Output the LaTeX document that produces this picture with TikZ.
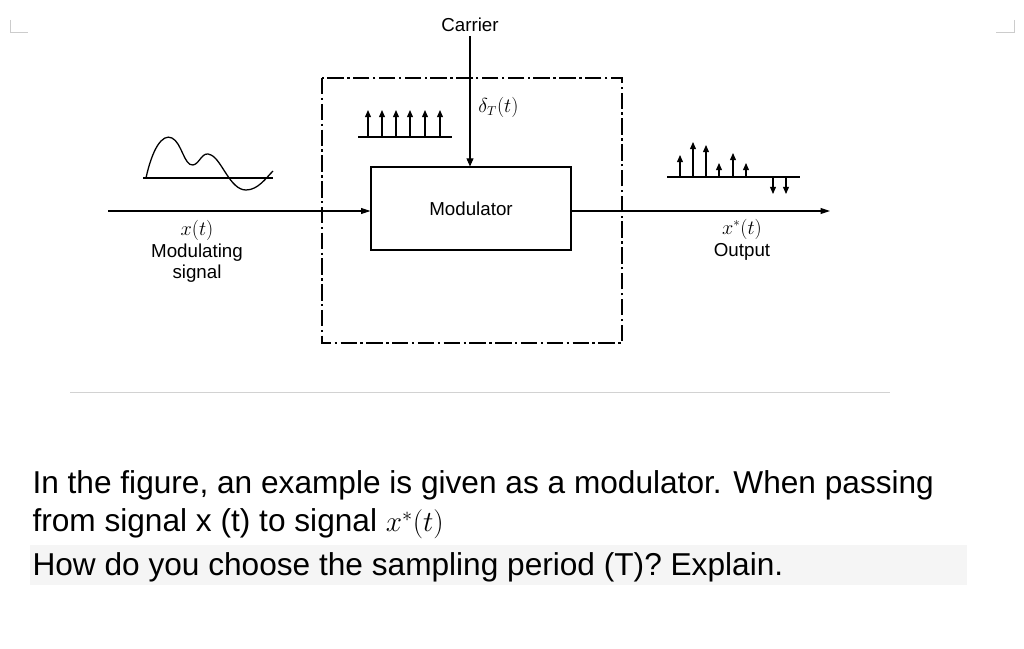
\documentclass[tikz,border=0pt]{standalone}
\usepackage{fontspec}
\setmainfont{Liberation Sans}
\usetikzlibrary{arrows.meta}
\tikzset{
  lbl/.style={font=\fontsize{16}{18}\selectfont},
  qtext/.style={font=\fontsize{27}{31}\selectfont, anchor=west, inner sep=0pt},
  imp/.style={-{Triangle[length=6pt,width=5pt]}, line width=0.9pt}
}
\begin{document}
\begin{tikzpicture}[x=0.03cm,y=-0.03cm,line width=0.9pt]
  \useasboundingbox (0,0) rectangle (1024,649);
  % corner marks
  \draw[gray!40, line width=0.6pt] (10,20) -- (10,32) -- (28,32);
  \draw[gray!40, line width=0.6pt] (1014,20) -- (1014,32) -- (996,32);
  % sampler boundary
  \draw[dash pattern=on 14pt off 3pt on 2pt off 3pt] (322,78) rectangle (622,343);
  % modulator block
  \node[draw, minimum width=6cm, minimum height=2.49cm, lbl] (mod) at (471,208.5) {Modulator};
  \node[lbl] (carrier) at (470,25) {Carrier};
  \coordinate (xin) at (108,211);
  \coordinate (xout) at (830,211);
  \draw[-{Triangle[length=8pt,width=5pt]}] (xin) -- (xin -| mod.west);
  \draw[-{Triangle[length=8pt,width=5pt]}] (mod.east |- xout) -- (xout);
  \draw[-{Triangle[length=7pt,width=6pt]}] (carrier.south) -- (carrier.south |- mod.north);
  \node[lbl, anchor=west] (delta) at (474,107) {$\delta_T(t)$};
  % carrier impulse train
  \draw (358,137) -- (452,137);
  \foreach \x in {368,382,396,410,425,440}
    \draw[imp] (\x,137) -- (\x,110);
  % modulating signal
  \draw (143,178) -- (273,178);
  \draw[line width=1.1pt] (146,178) .. controls (152,150) and (162,133) .. (172,138)
    .. controls (182,143) and (184,166) .. (193,165)
    .. controls (200,164) and (202,150) .. (211,155)
    .. controls (222,160) and (230,190) .. (246,190)
    .. controls (258,190) and (266,178) .. (273,171);
  \node[lbl] (xt) at (197,230) {$x(t)$};
  \node[lbl, below=-4pt] (modsig) at (xt.south) {Modulating};
  \node[lbl, below=-5pt] (sig) at (modsig.south) {signal};
  % sampled output
  \draw (667,177) -- (800,177);
  \foreach \x/\h in {680/155,693/142,706/145,719/163,733/153,746/163}
    \draw[imp] (\x,177) -- (\x,\h);
  \foreach \x in {773,786}
    \draw[imp] (\x,177) -- (\x,194);
  \node[lbl] (xst) at (742,229) {$x^*(t)$};
  \node[lbl, below=-4pt] (outp) at (xst.south) {Output};
  % separator
  \draw[gray!35, line width=0.6pt] (70,392) -- (890,392);
  % question
  \fill[gray!8] (30,545) rectangle (967,585);
  \node[qtext] (q1) at (32,485) {In the figure, an example is given as a modulator. When passing};
  \node[qtext] (q2) at (32,524) {from signal x (t) to signal $x^*(t)$};
  \node[qtext] (q3) at (32,567) {How do you choose the sampling period (T)? Explain.};
\end{tikzpicture}
\end{document}
